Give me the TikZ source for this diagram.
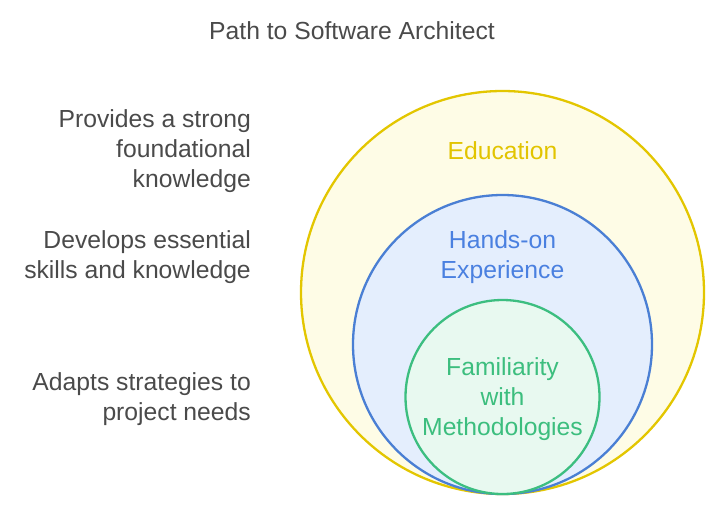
\documentclass[tikz,border=0pt]{standalone}
\usepackage{fontspec}
\setmainfont{Liberation Sans}
\definecolor{ystroke}{HTML}{E3C600}
\definecolor{yfill}{HTML}{FEFCE6}
\definecolor{bstroke}{HTML}{4A7FD4}
\definecolor{bfill}{HTML}{E4EEFD}
\definecolor{gstroke}{HTML}{3CBE80}
\definecolor{gfill}{HTML}{E8F9F0}
\definecolor{ytext}{HTML}{E2C400}
\definecolor{btext}{HTML}{4A80E0}
\definecolor{gtext}{HTML}{3CBE7E}
\definecolor{graytext}{HTML}{4A4A4A}
\begin{document}
\begin{tikzpicture}[x=1pt,y=1pt,
  ring/.style={circle,draw,line width=2.3pt,inner sep=0pt},
  lbl/.style={font=\fontsize{24.7pt}{30pt}\selectfont,inner sep=0pt,align=center},
  side/.style={font=\fontsize{24.7pt}{30pt}\selectfont,inner sep=0pt,align=right,text=graytext,anchor=base east}]
\useasboundingbox (0,0) rectangle (722,-512);
\node[ring,draw=ystroke,fill=yfill,minimum size=403pt] (edu) at (502.5,-292.5) {};
\node[ring,draw=bstroke,fill=bfill,minimum size=299pt] (hands) at (502.5,-344.5) {};
\node[ring,draw=gstroke,fill=gfill,minimum size=194pt] (fam) at (502.5,-397) {};
\node[lbl,text=graytext,anchor=base] (title) at (352,-39) {Path to Software Architect};
\node[lbl,text=ytext,anchor=base] (edut) at (502.5,-159) {Education};
\node[lbl,text=btext,anchor=base] (handst) at (502.5,-278.3) {Hands-on\\Experience};
\node[lbl,text=gtext,anchor=base] (famt) at (502.5,-435) {Familiarity\\with\\Methodologies};
\node[side] (d1) at (251,-187) {Provides a strong\\foundational\\knowledge};
\node[side] (d2) at (251,-278.3) {Develops essential\\skills and knowledge};
\node[side] (d3) at (251,-420) {Adapts strategies to\\project needs};
\end{tikzpicture}
\end{document}
